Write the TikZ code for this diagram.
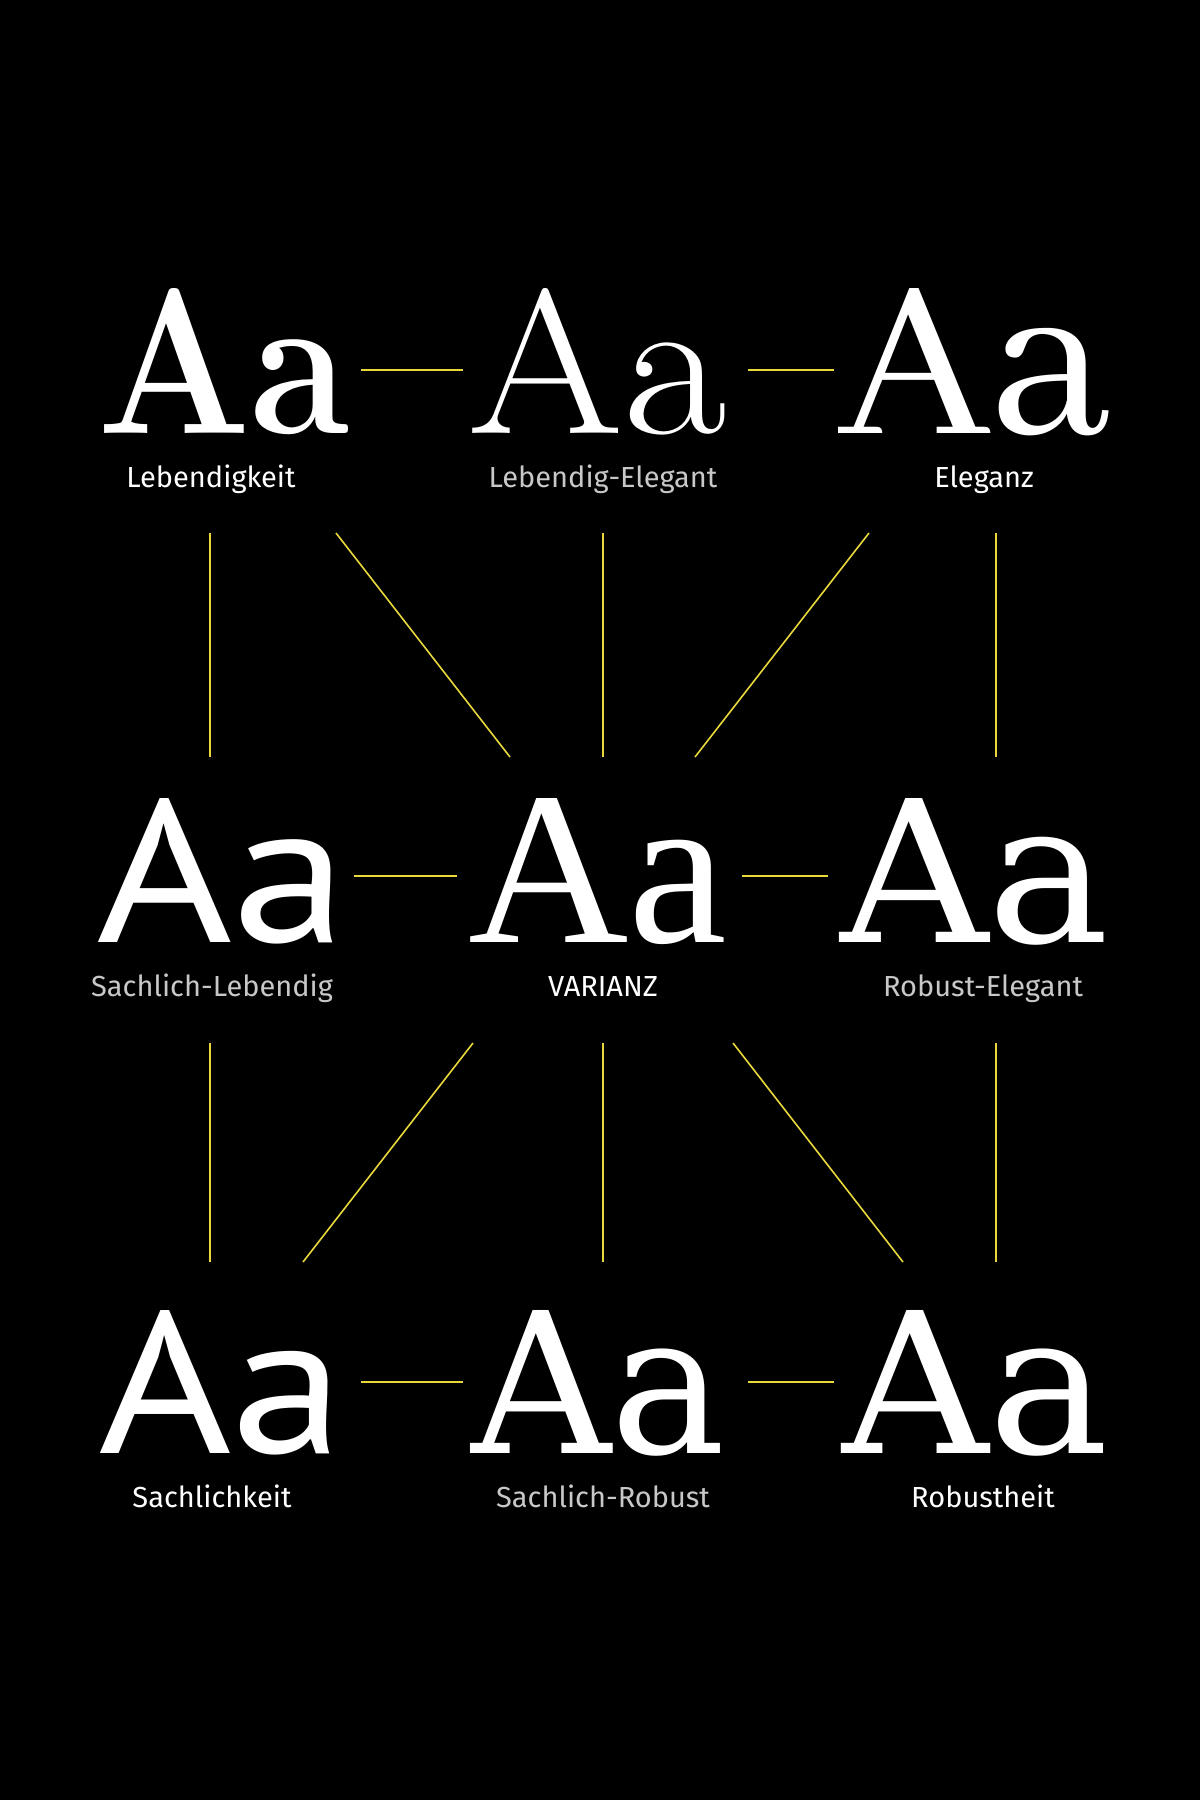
\documentclass[tikz,border=0pt]{standalone}
\usepackage{fontspec}
\setmainfont{Fira Sans}
\newfontfamily\fLM{Latin Modern Roman}
\newfontfamily\fLib{Liberation Serif}
\newfontfamily\fAb{Abhaya Libre}
\newfontfamily\fPT{PT Sans}
\newfontfamily\fDV{DejaVu Serif}
\newfontfamily\fDVC{DejaVu Serif Condensed}
\definecolor{lineyellow}{RGB}{232,216,60}
\definecolor{labgray}{RGB}{200,200,200}
\newcommand{\glyphbox}[3]{\resizebox{#1pt}{#2pt}{\fontsize{100}{100}\selectfont #3Aa}}
\tikzset{
  glyph/.style={inner sep=0pt, outer sep=0pt, anchor=base west, text=white},
  lab/.style={inner sep=0pt, anchor=base, font=\fontsize{29}{29}\selectfont},
  labw/.style={lab, text=white},
  labg/.style={lab, text=labgray},
  conn/.style={draw=lineyellow, line width=1.6pt}
}
\begin{document}
\begin{tikzpicture}[x=1pt,y=-1pt]
\useasboundingbox (0,0) rectangle (1200,1800);
\fill[black] (0,0) rectangle (1200,1800);

% glyphs: width, height (cap top to baseline)
\node[glyph] (g11) at (97,433)  {\glyphbox{253}{145}{\fLM\bfseries}};
\node[glyph] (g12) at (467,433) {\glyphbox{260}{145}{\fLM}};
\node[glyph] (g13) at (838,433) {\glyphbox{272}{145}{\fAb}};
\node[glyph] (g21) at (96,942)  {\glyphbox{252}{144}{\fPT}};
\node[glyph] (g22) at (468,942) {\glyphbox{259}{144}{\fLib}};
\node[glyph] (g23) at (840,942) {\glyphbox{270}{144}{\fDVC}};
\node[glyph] (g31) at (98,1453) {\glyphbox{247}{143}{\fPT}};
\node[glyph] (g32) at (471,1453) {\glyphbox{255}{143}{\fDVC}};
\node[glyph] (g33) at (842,1453) {\glyphbox{267}{143}{\fDV}};

% labels
\node[labw] (l11) at (211,487) {Lebendigkeit};
\node[labg] (l12) at (603,487) {Lebendig-Elegant};
\node[labw] (l13) at (984,487) {Eleganz};
\node[labg] (l21) at (212,996) {Sachlich-Lebendig};
\node[labw] (l22) at (603,996) {VARIANZ};
\node[labg] (l23) at (983,996) {Robust-Elegant};
\node[labw] (l31) at (212,1507) {Sachlichkeit};
\node[labg] (l32) at (603,1507) {Sachlich-Robust};
\node[labw] (l33) at (983,1507) {Robustheit};

% connector end points
\coordinate (h11a) at (361,370); \coordinate (h11b) at (463,370);
\coordinate (h12a) at (748,370); \coordinate (h12b) at (834,370);
\coordinate (h21a) at (354,876); \coordinate (h21b) at (457,876);
\coordinate (h22a) at (742,876); \coordinate (h22b) at (828,876);
\coordinate (h31a) at (361,1382); \coordinate (h31b) at (463,1382);
\coordinate (h32a) at (748,1382); \coordinate (h32b) at (834,1382);

\coordinate (v1a) at (210,533); \coordinate (v1b) at (210,757);
\coordinate (v2a) at (603,533); \coordinate (v2b) at (603,757);
\coordinate (v3a) at (996,533); \coordinate (v3b) at (996,757);
\coordinate (d1a) at (336,533); \coordinate (d1b) at (510,757);
\coordinate (d2a) at (869,533); \coordinate (d2b) at (695,757);

\coordinate (w1a) at (210,1043); \coordinate (w1b) at (210,1262);
\coordinate (w2a) at (603,1043); \coordinate (w2b) at (603,1262);
\coordinate (w3a) at (996,1043); \coordinate (w3b) at (996,1262);
\coordinate (e1a) at (473,1043); \coordinate (e1b) at (303,1262);
\coordinate (e2a) at (733,1043); \coordinate (e2b) at (903,1262);

\draw[conn] (h11a) -- (h11b);
\draw[conn] (h12a) -- (h12b);
\draw[conn] (h21a) -- (h21b);
\draw[conn] (h22a) -- (h22b);
\draw[conn] (h31a) -- (h31b);
\draw[conn] (h32a) -- (h32b);
\draw[conn] (v1a) -- (v1b);
\draw[conn] (v2a) -- (v2b);
\draw[conn] (v3a) -- (v3b);
\draw[conn] (d1a) -- (d1b);
\draw[conn] (d2a) -- (d2b);
\draw[conn] (w1a) -- (w1b);
\draw[conn] (w2a) -- (w2b);
\draw[conn] (w3a) -- (w3b);
\draw[conn] (e1a) -- (e1b);
\draw[conn] (e2a) -- (e2b);
\end{tikzpicture}
\end{document}
